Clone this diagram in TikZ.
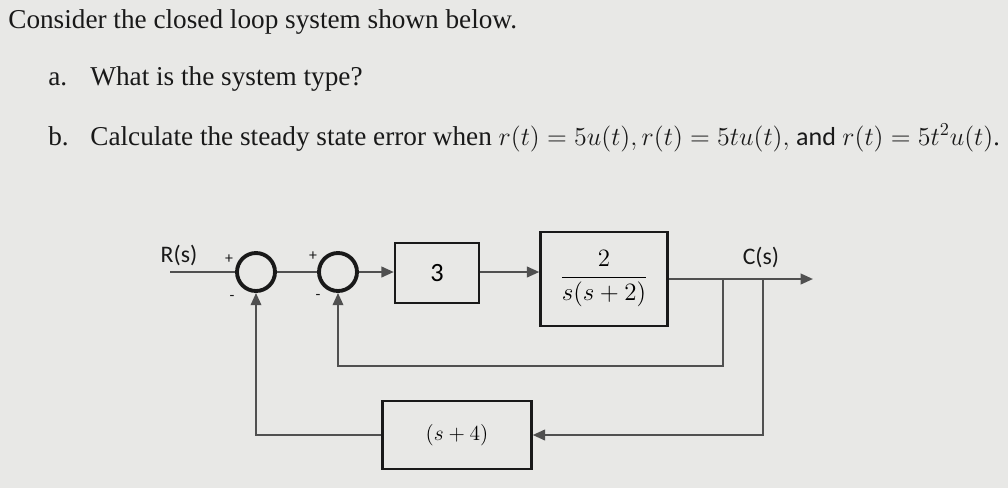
\RequirePackage{fix-cm}
\documentclass[tikz,border=0pt]{standalone}
\usepackage{fontspec}
\setmainfont{Liberation Serif}
\newfontfamily\calfont{Carlito}
\usetikzlibrary{arrows.meta}
\definecolor{paper}{RGB}{232,232,230}
\definecolor{ink}{RGB}{25,25,25}
\definecolor{wirec}{RGB}{80,80,80}
\newcommand{\qfont}{\fontsize{15.5}{18}\selectfont}

\begin{document}
\begin{tikzpicture}[x=0.02cm,y=-0.02cm,
    blk/.style={draw=ink,line width=1.4pt,inner sep=0pt},
    sumj/.style={draw=ink,circle,line width=2.2pt,minimum size=0.76cm,inner sep=0pt},
    wire/.style={draw=wirec,line width=1.2pt},
    sig/.style={wire,-{Triangle[length=7pt,width=6pt]}},
    sgn/.style={font=\calfont\fontsize{9}{10}\selectfont,text=ink,inner sep=0pt},
    lbl/.style={font=\calfont\fontsize{13.5}{15}\selectfont,text=ink}]
  \fill[paper] (0,0) rectangle (1008,488);
  \useasboundingbox (0,0) rectangle (1008,488);
  % question text
  \node[anchor=base west,font=\qfont,text=ink,inner sep=0pt] (title) at (8,28) {Consider the closed loop system shown below.};
  \node[anchor=base west,font=\qfont,text=ink,inner sep=0pt] (qa) at (48,85) {a.};
  \node[anchor=base west,font=\qfont,text=ink,inner sep=0pt] (qatext) at (90,85) {What is the system type?};
  \node[anchor=base west,font=\qfont,text=ink,inner sep=0pt] (qb) at (48,145) {b.};
  \node[anchor=base west,font=\qfont,text=ink,inner sep=0pt] (qbtext) at (90,145) {Calculate the steady state error when};
  \node[anchor=base west,font=\fontsize{14.8}{18}\selectfont,text=ink,inner sep=0pt] (qbmath) at ([xshift=3.5pt]qbtext.base east)
    {$r(t)=5u(t), r(t)=5tu(t),$ {\calfont and} $r(t)=5t^2u(t)$.};
  % blocks
  \node[sumj] (s1) at (256,272) {};
  \node[sumj] (s2) at (338,272) {};
  \node[blk,minimum width=1.68cm,minimum height=1.2cm,font=\calfont\fontsize{15}{16}\selectfont] (k) at (437,273) {3};
  \node[blk,minimum width=2.54cm,minimum height=1.88cm,font=\fontsize{14.2}{16}\selectfont] (g) at (604,279) {$\displaystyle\frac{2}{s(s+2)}$};
  \node[blk,minimum width=2.98cm,minimum height=1.36cm,font=\fontsize{12.2}{15}\selectfont] (h) at (457,435) {$(s+4)$};
  % labels
  \node[lbl] (rs) at (179,255) {R(s)};
  \node[lbl] (cs) at (761,257) {C(s)};
  \node[sgn] (p1) at (229,259) {+};
  \node[sgn] (m1) at (232,298) {-};
  \node[sgn] (p2) at (313,256) {+};
  \node[sgn] (m2) at (318,297) {-};
  % signal lines
  \coordinate (rin) at (170,272);
  \coordinate (cout) at (813,279);
  \coordinate (b1) at (723,279);
  \coordinate (b2) at (763,279);
  \coordinate (fb1) at (723,366);
  \coordinate (fb2) at (763,435);
  \draw[wire] (rin) -- (s1.west);
  \draw[wire] (s1.east) -- (s2.west);
  \draw[sig] (s2.east) -- (s2.east -| k.west);
  \draw[sig] (k.east |- s2) -- (s2 -| g.west);
  \draw[sig] (g.east) -- (cout);
  \draw[sig] (b1) -- (fb1) -| (s2.south);
  \draw[sig] (b2) -- (fb2) -- (h.east);
  \draw[sig] (h.west) -| (s1.south);
\end{tikzpicture}
\end{document}
